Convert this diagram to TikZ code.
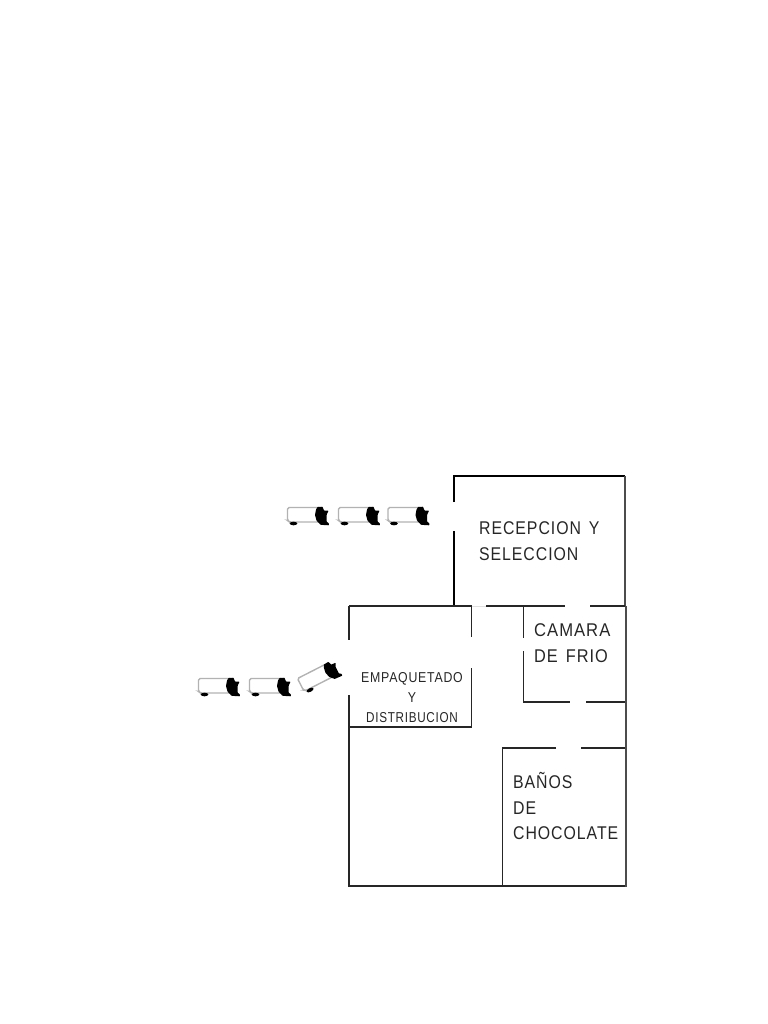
\documentclass[tikz,border=0pt]{standalone}
\usepackage{fontspec}
\setmainfont[LetterSpace=6]{Liberation Sans}
\newcommand{\wsp}{\hspace{.5em}}
\tikzset{
  x=1bp,y=-1bp,
  wall/.style={black!85,line width=1.25bp,line cap=butt},
  heavy/.style={black,line width=1.7bp},
  outer/.style={black!70,line width=2bp},
  faint/.style={black!12,line width=1bp},
  big/.style={anchor=base west,inner sep=0pt,font=\fontsize{18.5}{19}\selectfont,text=black!85,xscale=.86},
  small/.style={anchor=base,inner sep=0pt,font=\fontsize{14.4}{14}\selectfont,text=black!85,xscale=.86},
  truck/.pic={
    \draw[black!30,line width=1.4bp,rounded corners=1.5bp] (31,0) -- (0,0) -- (0,13) -- (2,14.5) -- (33,14.5);
    \fill[black,rounded corners=.5bp] (28.5,2) -- (30,-.5) -- (35,-.8) -- (36.5,3) -- (41,3.2) -- (39.2,7) -- (39.2,14.3) -- (41.3,15.6) -- (41.3,17.8) -- (33,17.3) -- (29,13) -- (27.5,7.5) -- cycle;
    \fill[black] (6,16) ellipse [x radius=3.8bp,y radius=1.8bp];
  }
}
\begin{document}
\begin{tikzpicture}
\useasboundingbox (0,0) rectangle (768,1024);
% reception
\draw[heavy] (454,502) -- (454,476) -- (625,476);
\draw[heavy] (454,531) -- (454,606);
\draw[outer,line width=1.3bp] (625,476) -- (625,606);
% y=606 line
\draw[wall] (349,606) -- (472,606);
\draw[faint] (472,606) -- (486,606);
\draw[wall] (486,606) -- (565,606);
\draw[wall] (590,606) -- (625,606);
% packing room
\draw[wall] (349,606) -- (349,640);
\draw[wall] (349,695) -- (349,886) -- (626,886);
\draw[wall] (471.7,606) -- (471.7,637);
\draw[wall] (471.7,668) -- (471.7,727) -- (349,727);
% cold room
\draw[wall] (523.8,606) -- (523.8,638);
\draw[wall] (523.8,651) -- (523.8,702) -- (570,702);
\draw[wall] (586,702) -- (625,702);
% chocolate baths
\draw[wall] (556,748) -- (502.8,748) -- (502.8,886);
\draw[wall] (581,748) -- (625,748);
\draw[outer] (625.5,606) -- (625.5,886.5);
% labels
\node[big] (recepcion) at (479,534) {RECEPCION\wsp Y};
\node[big] (seleccion) at (479,560) {SELECCION};
\node[big,xscale=1.05] (camara) at (534,636) {CAMARA};
\node[big,xscale=1.03] (defrio) at (534,662) {DE\wsp FRIO};
\node[small] (empaquetado) at (412,682) {EMPAQUETADO};
\node[small] (y) at (412,702) {Y};
\node[small,xscale=.95] (distribucion) at (412,722) {DISTRIBUCION};
\node[big] (banos) at (513,788) {BAÑOS};
\node[big] (de) at (513,814) {DE};
\node[big] (chocolate) at (513,839) {CHOCOLATE};
% trucks
\pic at (287.5,507.5) {truck};
\pic at (338.5,507.5) {truck};
\pic at (388,507.5) {truck};
\pic at (198.5,678.5) {truck};
\pic at (249.5,678.5) {truck};
\pic[rotate=27] at (297.5,678.5) {truck};
\end{tikzpicture}
\end{document}
